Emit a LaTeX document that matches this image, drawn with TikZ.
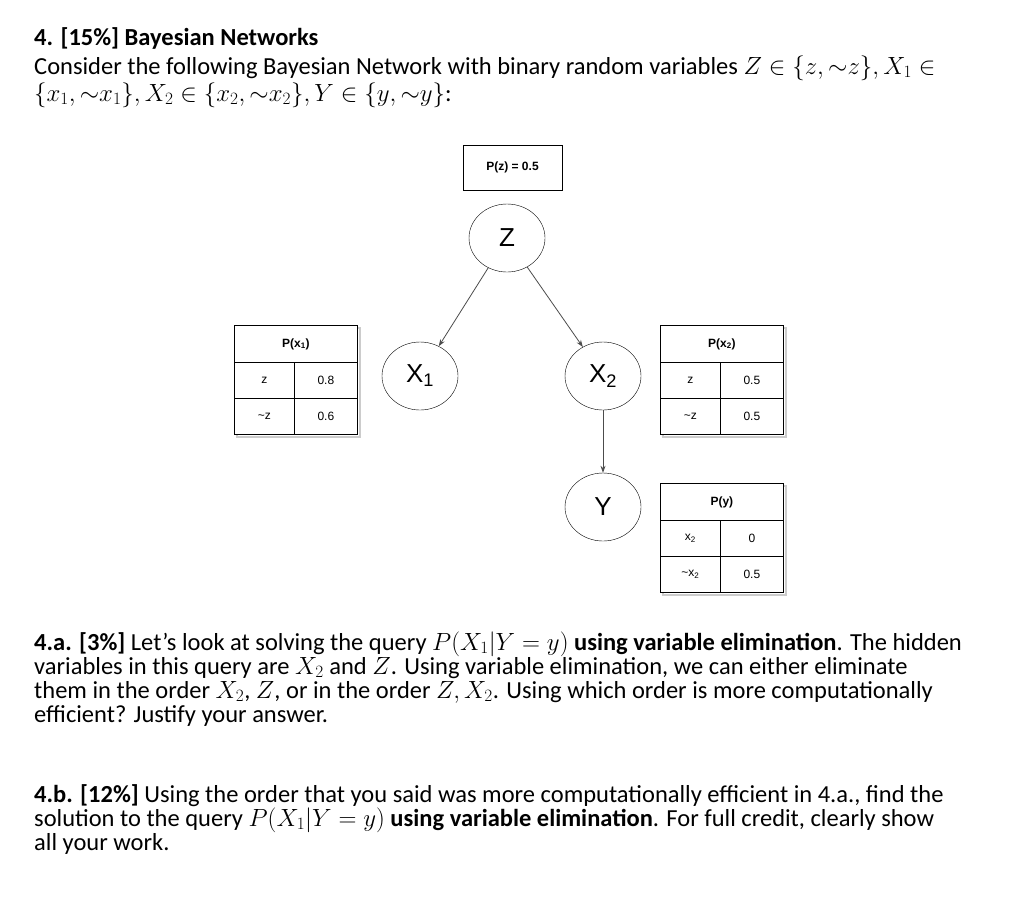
\documentclass[tikz,border=0pt]{standalone}
\usepackage{fontspec}
\setmainfont{Carlito}
\newfontfamily\arialf{Liberation Sans}
\usetikzlibrary{arrows.meta,shapes.geometric}
\begin{document}
\begin{tikzpicture}[x=1pt,y=-1pt,
  txt/.style={anchor=base west,inner sep=0pt,font=\fontsize{24.5}{28}\selectfont},
  var/.style={draw,ellipse,minimum width=76pt,minimum height=68pt,inner sep=0pt,font=\arialf\fontsize{26}{26}\selectfont},
  arr/.style={-{Stealth[length=7pt,width=5pt]},draw=black!70,line width=0.8pt},
  cell/.style={draw,line width=0.8pt,font=\arialf\fontsize{12}{12}\selectfont},
  hd/.style={font=\arialf\bfseries\fontsize{12}{12}\selectfont}]
\useasboundingbox (0,0) rectangle (1024,906);
\fill[white] (0,0) rectangle (1024,906);
% text
\node[txt,font=\bfseries\fontsize{24.5}{28}\selectfont] (t0) at (34,45) {4. [15\%] Bayesian Networks};
\node[txt] (t1) at (34,74) {Consider the following Bayesian Network with binary random variables $Z\in\{z,{\sim}z\}, X_1\in$};
\node[txt] (t2) at (34,101) {$\{x_1,{\sim}x_1\}, X_2\in\{x_2,{\sim}x_2\}, Y\in\{y,{\sim}y\}$:};
\node[txt] (a1) at (34,650) {\textbf{4.a. [3\%]} Let’s look at solving the query $P(X_1|Y=y)$ \textbf{using variable elimination}. The hidden};
\node[txt] (a2) at (34,674) {variables in this query are $X_2$ and $Z$. Using variable elimination, we can either eliminate};
\node[txt] (a3) at (34,698) {them in the order $X_2$, $Z$, or in the order $Z, X_2$. Using which order is more computationally};
\node[txt] (a4) at (34,722) {efficient? Justify your answer.};
\node[txt] (b1) at (34,802) {\textbf{4.b. [12\%]} Using the order that you said was more computationally efficient in 4.a., find the};
\node[txt] (b2) at (34,826) {solution to the query $P(X_1|Y=y)$ \textbf{using variable elimination}. For full credit, clearly show};
\node[txt] (b3) at (34,850) {all your work.};
% network
\node[draw,line width=0.8pt,minimum width=99pt,minimum height=45pt,hd] (pz) at (512.5,167.5) {P(z) = 0.5};
\node[var] (Z) at (507,238) {Z};
\node[var] (X1) at (420,376) {X\textsubscript{1}};
\node[var] (X2) at (603,376) {X\textsubscript{2}};
\node[var] (Y) at (603,507) {Y};
\draw[arr] (Z) -- (X1);
\draw[arr] (Z) -- (X2);
\draw[arr] (X2) -- (Y);
% tables
\foreach \nm/\x/\y/\h/\ra/\va/\rb/\vb in {
  tx1/234/325/P(x\textsubscript{1})/z/0.8/\textasciitilde z/0.6,
  tx2/660/325/P(x\textsubscript{2})/z/0.5/\textasciitilde z/0.5,
  ty/660/483/P(y)/x\textsubscript{2}/0/\textasciitilde x\textsubscript{2}/0.5}{
  \draw[black!20,line width=1.5pt] (\x+3,\y+3) rectangle (\x+126,\y+112);
  \fill[white] (\x,\y) rectangle (\x+123,\y+109);
  \node[cell,hd,minimum width=123pt,minimum height=37pt,anchor=north west] (\nm h) at (\x,\y) {\h};
  \node[cell,minimum width=60pt,minimum height=36pt,anchor=north west] (\nm a) at (\x,\y+37) {\ra};
  \node[cell,minimum width=63pt,minimum height=36pt,anchor=north west] (\nm b) at (\x+60,\y+37) {\va};
  \node[cell,minimum width=60pt,minimum height=36pt,anchor=north west] (\nm c) at (\x,\y+73) {\rb};
  \node[cell,minimum width=63pt,minimum height=36pt,anchor=north west] (\nm d) at (\x+60,\y+73) {\vb};
}
\end{tikzpicture}
\end{document}
